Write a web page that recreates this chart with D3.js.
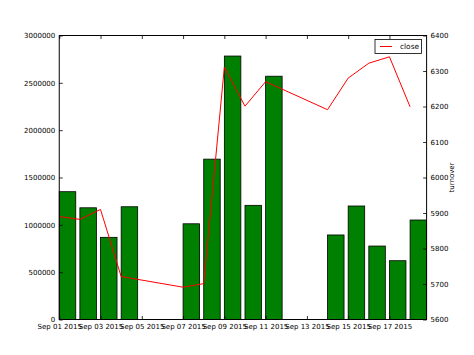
<!DOCTYPE html>
<html>
<head>
<meta charset="utf-8">
<script src="https://cdn.jsdelivr.net/npm/d3@7"></script>
<style>
  html, body { margin: 0; padding: 0; background: #fff; }
  svg { display: block; font-family: "DejaVu Sans", sans-serif; }
</style>
</head>
<body>
<svg id="chart" width="474" height="355"></svg>
<script>
// ---- data ----
const dates = ["2015-09-01","2015-09-02","2015-09-03","2015-09-04","2015-09-07","2015-09-08","2015-09-09","2015-09-10","2015-09-11","2015-09-14","2015-09-15","2015-09-16","2015-09-17","2015-09-18"];
const turnover = [1350000, 1180000, 868000, 1191000, 1011000, 1694000, 2783000, 1206000, 2570000, 893000, 1199000, 776000, 621000, 1051000];
const close = [5890, 5882, 5910, 5721, 5691, 5701, 6311, 6201, 6270, 6191, 6280, 6322, 6340, 6199];
const xTickDates = ["2015-09-01","2015-09-03","2015-09-05","2015-09-07","2015-09-09","2015-09-11","2015-09-13","2015-09-15","2015-09-17"];
const leftTicks = [0, 500000, 1000000, 1500000, 2000000, 2500000, 3000000];
const rightTicks = [5600, 5700, 5800, 5900, 6000, 6100, 6200, 6300, 6400];
const seriesName = "close";
const rightLabel = "turnover";

// ---- layout ----
const L = 59.25, R = 426.6, T = 35.5, B = 319.5;
const DAY = 86400000;
const parse = d3.utcParse("%Y-%m-%d");
const dts = dates.map(parse);
const barW = 0.8 * DAY;

const svg = d3.select("#chart");
const x = d3.scaleUtc()
  .domain([parse("2015-09-01"), new Date(parse("2015-09-18").getTime() + barW)])
  .range([L, R]);
const yL = d3.scaleLinear().domain([0, 3000000]).range([B, T]);
const yR = d3.scaleLinear().domain([5600, 6400]).range([B, T]);

const fs = 7;

// bars
svg.append("g").selectAll("rect").data(dts).join("rect")
  .attr("x", d => x(d))
  .attr("width", d => x(new Date(d.getTime() + barW)) - x(d))
  .attr("y", (d, i) => yL(turnover[i]))
  .attr("height", (d, i) => B - yL(turnover[i]))
  .attr("fill", "#008000")
  .attr("stroke", "#000")
  .attr("stroke-width", 0.8);

// line
const line = d3.line().x((d, i) => x(dts[i])).y(d => yR(d));
svg.append("path").datum(close)
  .attr("d", line)
  .attr("fill", "none")
  .attr("stroke", "#ff0000")
  .attr("stroke-width", 1);

// frame
svg.append("rect").attr("x", L).attr("y", T).attr("width", R - L).attr("height", B - T)
  .attr("fill", "none").attr("stroke", "#000").attr("stroke-width", 1);

const tl = 3.5;
const fmtDate = d3.utcFormat("%b %d %Y");
// x axis ticks (bottom and top, inward)
const xBot = d3.axisBottom(x).tickValues(xTickDates.map(parse)).tickFormat(fmtDate)
  .tickSizeInner(-tl).tickSizeOuter(0).tickPadding(5);
const gx = svg.append("g").attr("transform", `translate(0,${B})`).call(xBot);
const xTop = d3.axisTop(x).tickValues(xTickDates.map(parse)).tickFormat("")
  .tickSizeInner(-tl).tickSizeOuter(0);
const gxt = svg.append("g").attr("transform", `translate(0,${T})`).call(xTop);

// left axis
const yLeft = d3.axisLeft(yL).tickValues(leftTicks).tickFormat(d3.format("d"))
  .tickSizeInner(-tl).tickSizeOuter(0).tickPadding(4);
const gyl = svg.append("g").attr("transform", `translate(${L},0)`).call(yLeft);

// right axis
const yRight = d3.axisRight(yR).tickValues(rightTicks).tickFormat(d3.format("d"))
  .tickSizeInner(-tl).tickSizeOuter(0).tickPadding(4);
const gyr = svg.append("g").attr("transform", `translate(${R},0)`).call(yRight);

[gx, gxt, gyl, gyr].forEach(g => {
  g.select(".domain").remove();
  g.selectAll("line").attr("stroke", "#000").attr("stroke-width", 0.8);
  g.selectAll("text").attr("font-size", fs).attr("fill", "#000")
    .attr("font-family", "DejaVu Sans, sans-serif");
});

// right axis label
svg.append("text")
  .attr("transform", `translate(454,${(T + B) / 2}) rotate(-90)`)
  .attr("text-anchor", "middle")
  .attr("font-size", fs)
  .attr("fill", "#000")
  .text(rightLabel);

// legend
const lg = svg.append("g");
lg.append("rect").attr("x", 375).attr("y", 39.5).attr("width", 46.5).attr("height", 14)
  .attr("fill", "#fff").attr("stroke", "#000").attr("stroke-width", 0.8);
lg.append("line").attr("x1", 380).attr("x2", 392).attr("y1", 46.5).attr("y2", 46.5)
  .attr("stroke", "#ff0000").attr("stroke-width", 1);
lg.append("text").attr("x", 400).attr("y", 49.2).attr("font-size", 7.4).attr("fill", "#000")
  .text(seriesName);
</script>
</body>
</html>
